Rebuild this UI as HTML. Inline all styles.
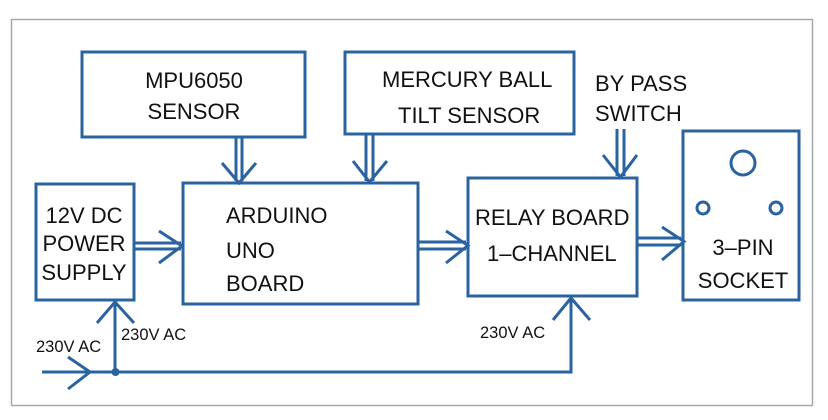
<!DOCTYPE html>
<html><head><style>
html,body{margin:0;padding:0;background:#fff;}
svg{display:block;}
text{font-family:"Liberation Sans",sans-serif;fill:#111;}
</style></head><body>
<svg width="828" height="420" viewBox="0 0 828 420">
<rect x="11.5" y="19.5" width="801" height="386" fill="none" stroke="#a8a8a8" stroke-width="1.5"/>
<g fill="none" stroke="#2b63a0" stroke-width="3">
<rect x="82" y="52" width="223" height="85"/>
<rect x="345" y="52" width="229" height="82"/>
<rect x="36" y="184" width="98" height="116"/>
<rect x="183" y="183" width="235" height="121"/>
<rect x="468" y="178" width="169" height="118"/>
<rect x="683" y="131" width="116" height="169"/>
<circle cx="743" cy="163" r="12"/>
<circle cx="703" cy="208" r="6"/>
<circle cx="776" cy="208" r="6"/>
<path d="M236 137V181M242 137V181M222 163L239 183L256 163"/>
<path d="M366 134V181M373 134V181M353 161L369.5 182L387 161"/>
<path d="M617 129V176M624 129V176M603 155L620.5 177L637 155"/>
<path d="M134 243H181M134 249H181M159 231L182 246L159 263"/>
<path d="M418 242H466M418 249H466M446 231L468 245.5L446 263"/>
<path d="M637 238H681M637 245H681M662 227L684 241.5L662 260"/>
<path d="M42 372H571V298M115 372V302M68 357L90 372L68 389M97 323L115 302L134 323M553 320L571 298L590 320"/>
</g>
<circle cx="115.5" cy="372" r="4" fill="#2b63a0"/>
<g font-size="22">
<text x="194" y="88" text-anchor="middle">MPU6050</text>
<text x="194" y="119" text-anchor="middle">SENSOR</text>
<text x="382" y="87">MERCURY BALL</text>
<text x="398" y="123">TILT SENSOR</text>
<text x="595" y="91">BY PASS</text>
<text x="595" y="121">SWITCH</text>
<text x="84" y="223" text-anchor="middle">12V DC</text>
<text x="84" y="251" text-anchor="middle">POWER</text>
<text x="84" y="280" text-anchor="middle">SUPPLY</text>
<text x="226" y="223">ARDUINO</text>
<text x="226" y="258">UNO</text>
<text x="226" y="291">BOARD</text>
<text x="475" y="225">RELAY BOARD</text>
<text x="487" y="261">1–CHANNEL</text>
<text x="743" y="255" text-anchor="middle">3–PIN</text>
<text x="743" y="288" text-anchor="middle">SOCKET</text>
</g>
<g font-size="16.5">
<text x="36" y="352">230V AC</text>
<text x="121" y="340">230V AC</text>
<text x="480" y="338">230V AC</text>
</g>
</svg>
</body></html>
